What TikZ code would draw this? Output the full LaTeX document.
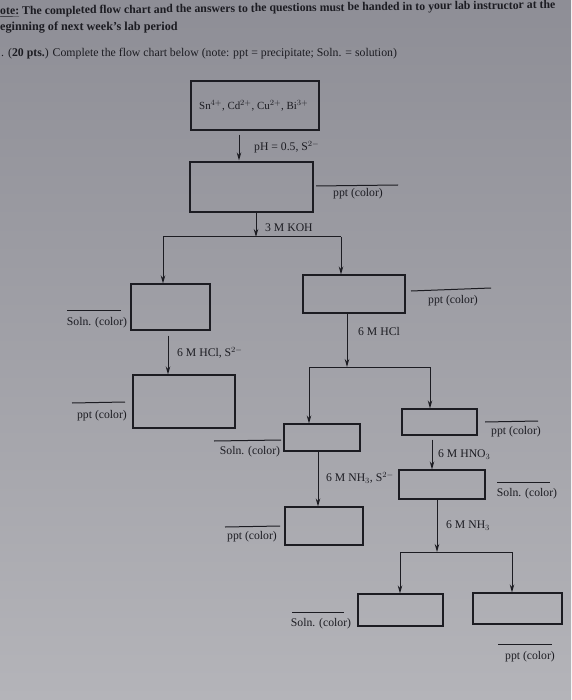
\documentclass[tikz,border=0pt]{standalone}
\usepackage{fontspec}
\setmainfont{Liberation Serif}
\usetikzlibrary{arrows.meta}
\definecolor{paper}{RGB}{142,142,150}
\definecolor{paperlight}{RGB}{180,180,185}
\definecolor{ink}{RGB}{28,28,34}
\begin{document}
\begin{tikzpicture}[x=1pt,y=-1pt,
  font=\fontsize{11.7}{14}\selectfont,
  bx/.style={draw=ink, line width=1.1pt, inner sep=0pt},
  arr/.style={draw=ink, line width=1pt, -{Stealth[length=8pt,width=4.5pt]}},
  lbl/.style={inner sep=0pt, text=ink},
  blank/.style={draw=ink, line width=1pt},
  head/.style={inner sep=0pt, text=ink, anchor=west}]
\useasboundingbox (0,0) rectangle (571,700);
\shade[top color=paper, bottom color=paperlight] (0,0) rectangle (571,700);

% heading
\node[head, font=\fontsize{11.8}{13}\selectfont\bfseries, rotate=0.65] (h1) at (0,12) {\underline{ote:} The completed flow chart and the answers to the questions must be handed in to your lab instructor at the};
\node[head, font=\fontsize{12.2}{13}\selectfont\bfseries] (h2) at (0,28) {eginning of next week’s lab period};
\node[head, font=\fontsize{11.8}{13}\selectfont] (h3) at (1,54) {. (\textbf{20 pts.}) Complete the flow chart below (note: ppt = precipitate; Soln. = solution)};

% boxes
\node[bx, minimum width=128pt, minimum height=49pt] (b1) at (255,105.5) {};
\node[lbl, anchor=west, font=\fontsize{10.9}{13}\selectfont] (b1t) at (199,106) {Sn$^{4+}$, Cd$^{2+}$, Cu$^{2+}$, Bi$^{3+}$};
\node[bx, minimum width=123pt, minimum height=50pt] (b2) at (251.5,187) {};
\node[bx, minimum width=79pt, minimum height=46pt] (b3) at (170.5,307) {};
\node[bx, minimum width=102pt, minimum height=38pt] (b4) at (354,294) {};
\node[bx, minimum width=102pt, minimum height=53pt] (b5) at (184,401.5) {};
\node[bx, minimum width=76pt, minimum height=27pt] (b7) at (322,437.5) {};
\node[bx, minimum width=75pt, minimum height=26pt] (b8) at (439.5,422) {};
\node[bx, minimum width=86pt, minimum height=29pt] (b9) at (442,484.5) {};
\node[bx, minimum width=78pt, minimum height=38pt] (b10) at (324,526) {};
\node[bx, minimum width=85pt, minimum height=32pt] (b11) at (400.5,610) {};
\node[bx, minimum width=89pt, minimum height=31pt] (b12) at (517.5,608.5) {};

% split coordinates
\coordinate (s1L) at (163,237);
\coordinate (s1R) at (341,237);
\coordinate (s2L) at (309,367);
\coordinate (s2R) at (430,367);
\coordinate (s3L) at (400,552);
\coordinate (s3R) at (512,552);

% connectors
\draw[arr, shorten <=4pt, shorten >=1pt] (239,0 |- b1.south) -- (239,0 |- b2.north);
\draw[arr] (256,0 |- b2.south) -- (256,0 |- s1L);
\draw[line width=1pt, draw=ink] (s1L) -- (s1R);
\draw[arr] (s1L) -- (s1L |- b3.north);
\draw[arr] (s1R) -- (s1R |- b4.north);
\draw[arr, shorten <=5pt] (168,0 |- b3.south) -- (168,0 |- b5.north);
\draw[arr] (347,0 |- b4.south) -- (347,0 |- s2L);
\draw[line width=1pt, draw=ink] (s2L) -- (s2R);
\draw[arr] (s2L) -- (s2L |- b7.north);
\draw[arr] (s2R) -- (s2R |- b8.north);
\draw[arr, shorten <=4pt] (432,0 |- b8.south) -- (432,0 |- b9.north);
\draw[arr] (318,0 |- b7.south) -- (318,0 |- b10.north);
\draw[arr] (437,0 |- b9.south) -- (437,0 |- s3L);
\draw[line width=1pt, draw=ink] (s3L) -- (s3R);
\draw[arr] (s3L) -- (s3L |- b11.north);
\draw[arr] (s3R) -- (s3R |- b12.north);

% reagent labels
\node[lbl, anchor=west] (r1) at (254,147) {pH = 0.5, S$^{2-}$};
\node[lbl, anchor=west] (r2) at (265,228) {3 M KOH};
\node[lbl, anchor=west] (r3) at (177,353) {6 M HCl, S$^{2-}$};
\node[lbl, anchor=west] (r4) at (358,331) {6 M HCl};
\node[lbl, anchor=west] (r5) at (438,455) {6 M HNO$_3$};
\node[lbl, anchor=west] (r6) at (326,478) {6 M NH$_3$, S$^{2-}$};
\node[lbl, anchor=west] (r7) at (446,526) {6 M NH$_3$};

% answer blanks
\draw[blank] (316,186) -- (398,185);
\node[lbl] (t1) at (358,194) {ppt (color)};
\draw[blank] (67,310) -- (121,310);
\node[lbl] (t2) at (97,323) {Soln. (color)};
\draw[blank] (411,291) -- (491,288);
\node[lbl] (t3) at (453,301) {ppt (color)};
\draw[blank] (72,403) -- (125,402);
\node[lbl] (t4) at (102,416) {ppt (color)};
\draw[blank] (214,441) -- (281,440);
\node[lbl] (t5) at (250,452) {Soln. (color)};
\draw[blank] (485,422) -- (538,421);
\node[lbl] (t6) at (516,432) {ppt (color)};
\draw[blank] (497,482) -- (550,482);
\node[lbl] (t7) at (527,494) {Soln. (color)};
\draw[blank] (225,527) -- (280,526);
\node[lbl] (t8) at (252,537) {ppt (color)};
\draw[blank] (292,612) -- (344,612);
\node[lbl] (t9) at (321,624) {Soln. (color)};
\draw[blank] (498,644) -- (552,644);
\node[lbl] (t10) at (530,657) {ppt (color)};
\end{tikzpicture}
\end{document}
